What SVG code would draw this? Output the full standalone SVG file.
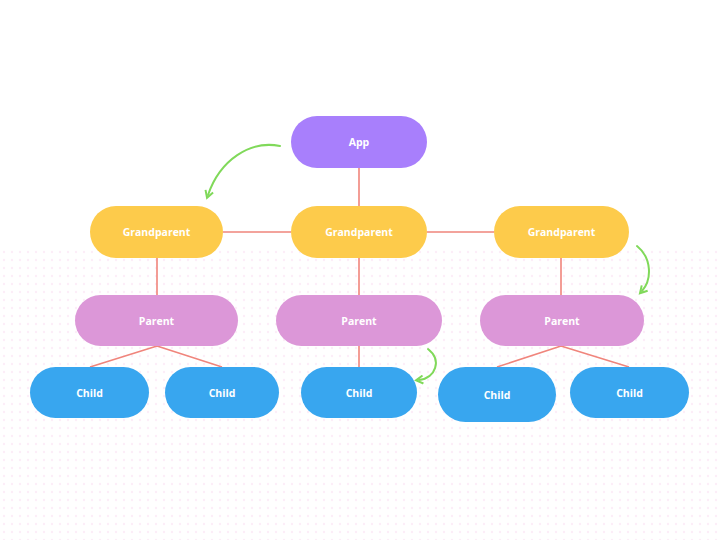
<svg xmlns="http://www.w3.org/2000/svg" width="720" height="540" viewBox="0 0 720 540">
<defs>
<style>
.n text{font-family:"Open Sans","Liberation Sans",sans-serif;font-weight:700;font-size:10.5px;fill:#fff;text-anchor:middle;dominant-baseline:central}
.app rect{fill:#a87ffc}.gp rect{fill:#fdcb4b}.p rect{fill:#dc97d8}.c rect{fill:#38a6ef}
.ln{stroke:#f0857c;stroke-width:1.6;fill:none}
.ar{stroke:#80d95a;stroke-width:2;fill:none;stroke-linecap:round}
</style>
<pattern id="dots" width="8" height="8" patternUnits="userSpaceOnUse"><circle cx="4" cy="4" r="1.2" fill="#fbeaf6"/></pattern>
<marker id="ah" viewBox="0 0 10 10" refX="5" refY="5" markerWidth="5" markerHeight="5" orient="auto"><path d="M1,1 L8,5 L1,9" fill="none" stroke="#80d95a" stroke-width="2"/></marker>
</defs>
<rect width="720" height="540" fill="#fff"/>
<rect y="250" width="720" height="290" fill="url(#dots)" opacity="0.8"/>
<g id="connectors">
<path class="ln" d="M359,168V206M223,232H291M427,232H494M157,258V295M359,258V295M561,258V295M157,346L90,367M157,346L222,367M359,346V367M561,346L497,367M561,346L629,367"/>
<path class="ar" d="M280,146C250,140 220,160 208,195" marker-end="url(#ah)" stroke-width="3"/>
<path class="ar" d="M637,246C652,258 652,280 642,291" marker-end="url(#ah)"/>
<path class="ar" d="M428,349C442,360 436,378 419,380" marker-end="url(#ah)"/>
</g>
<g id="app" class="n app"><rect x="291" y="116" width="136" height="52" rx="26"/><text x="359" y="142">App</text></g>
<g id="gp1" class="n gp"><rect x="90" y="206" width="133" height="52" rx="26"/><text x="156.5" y="232">Grandparent</text></g>
<g id="gp2" class="n gp"><rect x="291" y="206" width="136" height="52" rx="26"/><text x="359" y="232">Grandparent</text></g>
<g id="gp3" class="n gp"><rect x="494" y="206" width="135" height="52" rx="26"/><text x="561.5" y="232">Grandparent</text></g>
<g id="p1" class="n p"><rect x="75" y="295" width="163" height="51" rx="25.5"/><text x="156.5" y="320.5">Parent</text></g>
<g id="p2" class="n p"><rect x="276" y="295" width="166" height="51" rx="25.5"/><text x="359" y="320.5">Parent</text></g>
<g id="p3" class="n p"><rect x="480" y="295" width="164" height="51" rx="25.5"/><text x="562" y="320.5">Parent</text></g>
<g id="c1" class="n c"><rect x="30" y="367" width="119" height="51" rx="25.5"/><text x="89.5" y="392.5">Child</text></g>
<g id="c2" class="n c"><rect x="165" y="367" width="114" height="51" rx="25.5"/><text x="222" y="392.5">Child</text></g>
<g id="c3" class="n c"><rect x="301" y="367" width="116" height="51" rx="25.5"/><text x="359" y="392.5">Child</text></g>
<g id="c4" class="n c"><rect x="438" y="367" width="118" height="55" rx="27.5"/><text x="497" y="394.5">Child</text></g>
<g id="c5" class="n c"><rect x="570" y="367" width="119" height="51" rx="25.5"/><text x="629.5" y="392.5">Child</text></g>
</svg>
